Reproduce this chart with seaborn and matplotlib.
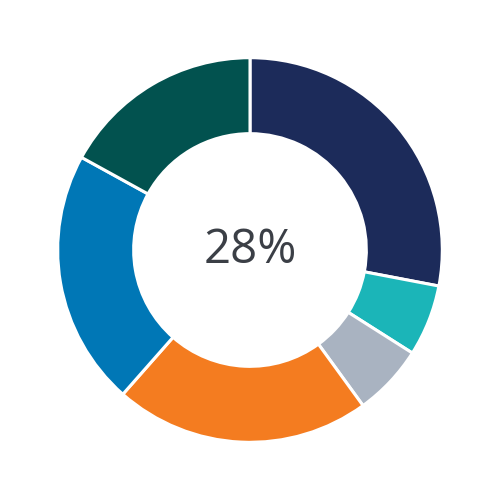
"""Donut chart of share breakdown with the headline share in the centre."""

import matplotlib

matplotlib.use("Agg")
import matplotlib.pyplot as plt  # noqa: E402
import seaborn as sns  # noqa: E402

SEGMENTS = ["Navy", "Teal", "Grey", "Orange", "Blue", "Green"]
SHARES = [28, 6, 6, 21.5, 21.5, 17]
COLOURS = ["#1c2b5a", "#1bb5b8", "#a9b3c1", "#f47c20", "#0077b6", "#02524f"]
CENTRE_LABEL = "28%"

sns.set_theme(style="white")
plt.rcParams["font.family"] = ["Open Sans", "DejaVu Sans"]

fig = plt.figure(figsize=(5, 5), dpi=100)
ax = fig.add_axes([0, 0, 1, 1])
ax.pie(
    SHARES,
    colors=sns.color_palette(COLOURS),
    startangle=90,
    counterclock=False,
    radius=1.0,
    wedgeprops=dict(width=0.395, edgecolor="white", linewidth=2.2),
)
ax.text(0, 0, CENTRE_LABEL, ha="center", va="center", fontsize=34, color="#3b3f46")
ax.set_xlim(-1.3, 1.3)
ax.set_ylim(-1.3, 1.3)
ax.set_aspect("equal")
ax.axis("off")
fig.savefig("out.png", dpi=100, facecolor="white")
